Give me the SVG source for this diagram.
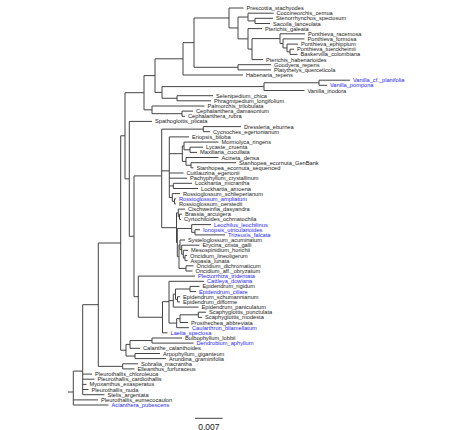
<svg xmlns="http://www.w3.org/2000/svg" width="474" height="430" viewBox="0 0 474 430">
<style>
text{font-family:"Liberation Sans",Arial,sans-serif;font-size:5.7px;fill:#1a1a1a}
.b{fill:#2828f0}
.br{fill:none;stroke:#444;stroke-width:1}
.sc{font-size:8.5px;text-anchor:middle}
</style>
<rect width="474" height="430" fill="#fff"/>
<g id="connectors">
<path class="br" d="M255,18.3V23.5M255,18.3H273M255,23.5H270
M248,13.2V20.9M248,13.2H273.5M248,20.9H255
M290,49.2V54.4M290,49.2H294M290,54.4H297.5
M287,44.1V51.8M287,44.1H298M287,51.8H290
M283,38.9V47.95M283,38.9H304.5M283,47.95H287
M280,33.8V43.45M280,33.8H305M280,43.45H283
M252,38.6V59.6M252,38.6H280M252,59.6H263
M248,28.6V49.1M248,28.6H262M248,49.1H252
M238,17.05V38.85M238,17.05H248M238,38.85H248
M229,8V27.95M229,8H243.5M229,27.95H238
M238,64.7V69.9M238,64.7H271M238,69.9H271
M194,17.98V67.3M194,17.98H229M194,67.3H238
M183,42.64V75M183,42.64H194M183,75H243
M319,80.2V85.3M319,80.2H350M319,85.3H327
M264,82.75V90.5M264,82.75H319M264,90.5H304.5
M177,95.7V100.8M177,95.7H213M177,100.8H211
M162,86.6V98.25M162,86.6H264M162,98.25H177
M155,58.8V92.4M155,58.8H183M155,92.4H162
M182,111.1V116.3M182,111.1H193M182,116.3H185
M152,106V113.7M152,106H204.5M152,113.7H182
M144,75.6V109.85M144,75.6H155M144,109.85H152
M203.3,126.6V131.7M203.3,126.6H241M203.3,131.7H210
M190,147.2V152.4M190,147.2H203M190,152.4H197
M184,142.1V149.8M184,142.1H218.5M184,149.8H190
M191,162.7V167.8M191,162.7H236M191,167.8H193.5
M186,157.5V165.25M186,157.5H218.5M186,165.25H191
M182.3,145.95V161.4M182.3,145.95H184M182.3,161.4H186
M174.5,198.8V203.9M174.5,198.8H176M174.5,203.9H176
M172.3,193.6V201.35M172.3,193.6H180M172.3,201.35H174.5
M173.3,183.3V188.5M173.3,183.3H192M173.3,188.5H198
M169.3,136.9V197.5M169.3,136.9H189M169.3,153.7H182.3M169.3,173H183.5M169.3,178.2H187M169.3,185.9H173.3M169.3,197.5H172.3
M179.5,214.2V219.4M179.5,214.2H182M179.5,219.4H181
M178.3,209.1V216.8M178.3,209.1H185M178.3,216.8H179.5
M195,229.7V234.9M195,229.7H200M195,234.9H225
M191.7,224.6V232.3M191.7,224.6H211M191.7,232.3H195
M185,255.5V260.6M185,255.5H187M185,260.6H187.5
M183.3,250.3V258.05M183.3,250.3H188M183.3,258.05H185
M181.7,245.2V254.2M181.7,245.2H199.5M181.7,254.2H183.3
M180,240V249.7M180,240H185M180,249.7H181.7
M186,265.8V271M186,265.8H193.5M186,271H192.5
M179,244.85V268.4M179,244.85H180M179,268.4H186
M177.3,228.45V256.6M177.3,228.45H191.7M177.3,256.6H179
M176.5,212.95V242.5M176.5,212.95H178.3M176.5,242.5H177.3
M161.7,129.15V227.7M161.7,129.15H203.3M161.7,170.87H169.3M161.7,227.7H176.5
M190,286.4V291.6M190,286.4H199.5M190,291.6H196
M177.5,296.7V301.9M177.5,296.7H180M177.5,301.9H180
M175.5,289V299.3M175.5,289H190M175.5,299.3H177.5
M173.3,294.15V307.1M173.3,294.15H175.5M173.3,307.1H198.5
M198.3,312.2V317.4M198.3,312.2H206M198.3,317.4H202
M180,314.8V322.5M180,314.8H198.3M180,322.5H188
M176.7,318.65V327.7M176.7,318.65H180M176.7,327.7H189
M169,281.3V323.1M169,281.3H204M169,300.6H173.3M169,323.1H176.7
M162.5,301.67V332.8M162.5,301.67H169M162.5,332.8H167.5
M138.3,276.1V317.25M138.3,276.1H195M138.3,317.25H162.5
M134,175.9V296.7M134,175.9H161.7M134,296.7H138.3
M129.3,121.4V236.3M129.3,121.4H152M129.3,236.3H134
M125,92.7V178.85M125,92.7H144M125,178.85H129.3
M152,338V343.1M152,338H182M152,343.1H193.5
M130,340.55V348.3M130,340.55H152M130,348.3H140
M135,353.5V358.6M135,353.5H160M135,358.6H166
M126,344.4V356.05M126,344.4H130M126,356.05H135
M120.7,135.8V350.2M120.7,135.8H125M120.7,350.2H126
M122.7,363.8V368.9M122.7,363.8H138M122.7,368.9H134.5
M98.3,243V366.35M98.3,243H120.7M98.3,366.35H122.7
M82.7,304.7V394.7M82.7,304.7H98.3M82.7,374.1H92M82.7,379.2H94.5M82.7,384.4H86.5M82.7,389.5H88.5M82.7,394.7H104.5
M73.3,371.1V405M73.3,371.1H82.7M73.3,399.9H98M73.3,405H108.5M68,392H73.3"/>
</g>
<g id="t01"><text x="246.5" y="10">Prescottia_stachyodes</text></g>
<g id="t02"><text x="276.5" y="15.2">Coccineorchis_cernua</text></g>
<g id="t03"><text x="276" y="20.3">Stenorrhynchos_speciosum</text></g>
<g id="t04"><text x="273" y="25.5">Sacoila_lanceolata</text></g>
<g id="t05"><text x="265" y="30.6">Pterichis_galeata</text></g>
<g id="t06"><text x="308" y="35.8">Ponthieva_racemosa</text></g>
<g id="t07"><text x="307.5" y="40.9">Ponthieva_formosa</text></g>
<g id="t08"><text x="301" y="46.1">Ponthieva_ephippium</text></g>
<g id="t09"><text x="297" y="51.2">Ponthieva_tuerckheimii</text></g>
<g id="t10"><text x="300.5" y="56.4">Baskervilla_colombiana</text></g>
<g id="t11"><text x="266" y="61.6">Pterichis_habenarioides</text></g>
<g id="t12"><text x="274" y="66.7">Goodyera_repens</text></g>
<g id="t13"><text x="274" y="71.9">Platythelys_querceticola</text></g>
<g id="t14"><text x="246" y="77">Habenaria_repens</text></g>
<g id="t15"><text class="b" x="353" y="82.2">Vanilla_cf._planifolia</text></g>
<g id="t16"><text class="b" x="330" y="87.3">Vanilla_pompona</text></g>
<g id="t17"><text x="307.5" y="92.5">Vanilla_inodora</text></g>
<g id="t18"><text x="216" y="97.7">Selenipedium_chica</text></g>
<g id="t19"><text x="214" y="102.8">Phragmipedium_longifolium</text></g>
<g id="t20"><text x="207.5" y="108">Palmorchis_trilobulata</text></g>
<g id="t21"><text x="196" y="113.1">Cephalanthera_damasonium</text></g>
<g id="t22"><text x="188" y="118.3">Cephalanthera_rubra</text></g>
<g id="t23"><text x="155" y="123.4">Spathoglottis_plicata</text></g>
<g id="t24"><text x="244" y="128.6">Dressleria_eburnea</text></g>
<g id="t25"><text x="213" y="133.7">Cycnoches_egertonianum</text></g>
<g id="t26"><text x="192" y="138.9">Eriopsis_biloba</text></g>
<g id="t27"><text x="221.5" y="144.1">Mormolyca_ringens</text></g>
<g id="t28"><text x="206" y="149.2">Lycaste_cruenta</text></g>
<g id="t29"><text x="200" y="154.4">Maxillaria_cucullata</text></g>
<g id="t30"><text x="221.5" y="159.5">Acineta_densa</text></g>
<g id="t31"><text x="239" y="164.7">Stanhopea_ecornuta_GenBank</text></g>
<g id="t32"><text x="196.5" y="169.8">Stanhopea_ecornuta_sequenced</text></g>
<g id="t33"><text x="186.5" y="175">Cuitlauzina_egertonii</text></g>
<g id="t34"><text x="190" y="180.2">Pachyphyllum_crystallinum</text></g>
<g id="t35"><text x="195" y="185.3">Lockhartia_micrantha</text></g>
<g id="t36"><text x="201" y="190.5">Lockhartia_amoena</text></g>
<g id="t37"><text x="183" y="195.6">Rossioglossum_schlieperianum</text></g>
<g id="t38"><text class="b" x="179" y="200.8">Rossioglossum_ampliatum</text></g>
<g id="t39"><text x="179" y="205.9">Rossioglossum_oerstedii</text></g>
<g id="t40"><text x="188" y="211.1">Cischweinfia_dasyandra</text></g>
<g id="t41"><text x="185" y="216.2">Brassia_arcuigera</text></g>
<g id="t42"><text x="184" y="221.4">Cyrtochiloides_ochmatochila</text></g>
<g id="t43"><text class="b" x="214" y="226.6">Leochilus_leochilinus</text></g>
<g id="t44"><text class="b" x="203" y="231.7">Ionopsis_utricularioides</text></g>
<g id="t45"><text class="b" x="228" y="236.9">Trizeuxis_falcata</text></g>
<g id="t46"><text x="188" y="242">Systeloglossum_acuminatum</text></g>
<g id="t47"><text x="202.5" y="247.2">Erycina_crista_galli</text></g>
<g id="t48"><text x="191" y="252.3">Mesospinidium_horichii</text></g>
<g id="t49"><text x="190" y="257.5">Oncidium_lineoligerum</text></g>
<g id="t50"><text x="190.5" y="262.6">Aspasia_lunata</text></g>
<g id="t51"><text x="196.5" y="267.8">Oncidium_dichromaticum</text></g>
<g id="t52"><text x="195.5" y="273">Oncidium_aff._obryzatum</text></g>
<g id="t53"><text class="b" x="198" y="278.1">Plectorrhiza_tridentata</text></g>
<g id="t54"><text class="b" x="207" y="283.3">Cattleya_dowiana</text></g>
<g id="t55"><text x="202.5" y="288.4">Epidendrum_rigidum</text></g>
<g id="t56"><text class="b" x="199" y="293.6">Epidendrum_ciliare</text></g>
<g id="t57"><text x="183" y="298.7">Epidendrum_schumannianum</text></g>
<g id="t58"><text x="183" y="303.9">Epidendrum_difforme</text></g>
<g id="t59"><text x="201.5" y="309.1">Epidendrum_paniculatum</text></g>
<g id="t60"><text x="209" y="314.2">Scaphyglottis_punctulata</text></g>
<g id="t61"><text x="205" y="319.4">Scaphyglottis_modesta</text></g>
<g id="t62"><text x="191" y="324.5">Prosthechea_abbreviata</text></g>
<g id="t63"><text class="b" x="192" y="329.7">Caularthron_bilamellatum</text></g>
<g id="t64"><text class="b" x="170.5" y="334.8">Laelia_speciosa</text></g>
<g id="t65"><text x="185" y="340">Bulbophyllum_lobbii</text></g>
<g id="t66"><text class="b" x="196.5" y="345.1">Dendrobium_aphyllum</text></g>
<g id="t67"><text x="143" y="350.3">Calanthe_calanthoides</text></g>
<g id="t68"><text x="163" y="355.5">Arpophyllum_giganteum</text></g>
<g id="t69"><text x="169" y="360.6">Arundina_graminifolia</text></g>
<g id="t70"><text x="141" y="365.8">Sobralia_macrantha</text></g>
<g id="t71"><text x="137.5" y="370.9">Elleanthus_furfuraceus</text></g>
<g id="t72"><text x="95" y="376.1">Pleurothallis_chloroleuca</text></g>
<g id="t73"><text x="97.5" y="381.2">Pleurothallis_cardiothallis</text></g>
<g id="t74"><text x="89.5" y="386.4">Myoxanthus_exasperatus</text></g>
<g id="t75"><text x="91.5" y="391.5">Pleurothallis_nuda</text></g>
<g id="t76"><text x="107.5" y="396.7">Stelis_argentata</text></g>
<g id="t77"><text x="101" y="401.9">Pleurothallis_eumecocaulon</text></g>
<g id="t78"><text class="b" x="111.5" y="407">Acianthera_pubescens</text></g>
<g id="scalebar">
<path class="br" d="M195,418.3H222.7"/>
<text class="sc" x="208.8" y="429.5">0.007</text>
</g>
</svg>
